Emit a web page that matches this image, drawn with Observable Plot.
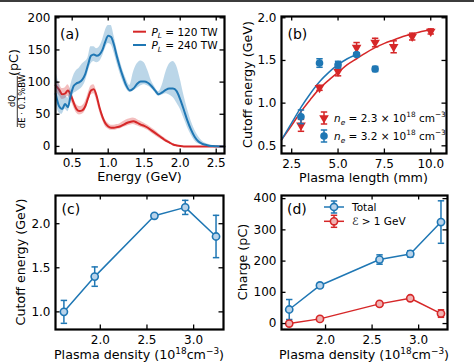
<!DOCTYPE html>
<html><head><meta charset="utf-8">
<script src="https://cdn.jsdelivr.net/npm/d3@7"></script>
<script src="https://cdn.jsdelivr.net/npm/@observablehq/plot@0.6"></script>
<style>
html,body{margin:0;padding:0;background:#fff;}
#wrap{position:relative;width:474px;height:364px;overflow:hidden;background:#fff;font-family:"DejaVu Sans";}
#wrap svg{position:absolute;left:0;top:0;overflow:visible;}
#topbar{position:absolute;left:0;top:0;width:474px;height:2px;background:#3c3c3c;z-index:5;}
</style></head><body><div id="wrap"><div id="topbar"></div></div>
<script>
// ---------- Panel (a): spectra ----------
const energyGeV = [0.27,0.32,0.36,0.40,0.44,0.48,0.52,0.56,0.60,0.64,0.68,0.72,0.76,0.80,0.84,0.88,0.92,0.96,1.00,1.04,1.08,1.12,1.16,1.20,1.25,1.30,1.35,1.40,1.45,1.50,1.55,1.60,1.65,1.70,1.75,1.80,1.85,1.90,1.95,2.00,2.05,2.10,2.15,2.20,2.25,2.30,2.35,2.40,2.45,2.50,2.55,2.615];
const q120   = [95,88,81,82,87,80,68,58,55,56, 62,75,87,89,78,60,46,36,31,29, 29,30,31,33,36,38,39,37,34,32, 29,25,21,17,13,9,6,3,1.5,0.5, 0,0,0,0,0,0,0,0,0,0, 0,0];
const q120Lo = [85,79,73,74,78,72,61,52,49,50, 55,68,80,82,71,54,41,31,27,25, 25,26,27,29,31,33,34,32,30,28, 25,21,17,13,10,6.5,4,2,1,0.2, 0,0,0,0,0,0,0,0,0,0, 0,0];
const q120Hi = [105,98,90,91,96,88,75,65,62,63, 69,82,94,96,85,66,51,41,36,33, 33,34,35,38,41,43,44,42,39,36, 33,29,25,20,16,12,8,4.5,2.2,0.9, 0,0,0,0,0,0,0,0,0,0, 0,0];
const q240   = [82,62,58,66,61,80,94,98,100,104, 112,127,141,143,141,143,150,163,172,170, 158,140,124,110,95,87,90,97,101,101, 99,94,87,81,84,88,90,90,86,73, 57,40,26,15,8,4.5,2.5,1.2,0.5,0.2, 0,0];
const q240Lo = [70,52,50,58,54,68,82,85,88,92, 100,115,128,132,130,132,140,152,160,158, 146,130,115,102,90,84,86,90,94,96, 94,90,84,78,80,82,80,76,68,58, 44,30,18,9,4,2,1,0,0,0, 0,0];
const q240Hi = [118,95,78,80,75,95,110,118,122,128, 132,138,155,155,152,155,165,180,188,188, 172,152,135,120,105,95,115,128,133,130, 118,102,92,85,95,115,128,132,125,105, 80,58,40,26,16,9,5,3,1.5,0.7, 0.2,0];
const xTicksA = [0.5,1.0,1.5,2.0,2.5];
const yTicksA = [0,50,100,150,200];

// ---------- Panel (b): cutoff vs plasma length ----------
const length23 = [3,4,5,6,7,8,9,10];
const cut23    = [0.74,1.18,1.37,1.65,1.71,1.66,1.78,1.84];
const err23    = [0.07,0.03,0.05,0.06,0.05,0.07,0.04,0.03];
const length32 = [3,4,5,6,7];
const cut32    = [0.84,1.47,1.45,1.57,1.40];
const err32    = [0.08,0.05,0.04,0.02,0.03];
const fitL23   = [1.95,2.5,3,3.5,4,4.5,5,5.5,6,6.5,7,7.5,8,8.5,9,9.5,10];
const fit23    = [0.57,0.74,0.90,1.04,1.17,1.27,1.36,1.45,1.52,1.59,1.65,1.70,1.74,1.78,1.81,1.84,1.86];
const fitL32   = [1.95,2.5,3,3.5,4,4.5,5,5.5,6];
const fit32    = [0.57,0.77,0.95,1.11,1.25,1.36,1.45,1.52,1.57];
const xTicksB = [2.5,5.0,7.5,10.0];
const yTicksB = [0.5,1.0,1.5,2.0];

// ---------- Panel (c): cutoff vs density ----------
const densC = [1.61,1.94,2.58,2.91,3.24];
const cutC  = [1.00,1.40,2.09,2.185,1.855];
const errC  = [0.13,0.11,0.02,0.08,0.24];
const xTicksC = [2.0,2.5,3.0];
const yTicksC = [1.0,1.5,2.0];

// ---------- Panel (d): charge vs density ----------
const densD = [1.61,1.94,2.58,2.91,3.24];
const chargeTotal = [45,122,205,223,325];
const errTotal    = [32,7,15,10,68];
const chargeHigh  = [0,15,63,81,32];
const errHigh     = [2,6,5,5,12];
const xTicksD = [2.0,2.5,3.0];
const yTicksD = [0,100,200,300,400];

const RED = "#d62728", BLUE = "#1f77b4";
const W = 474, H = 364;
const FA = {L:55, T:16, R:224, B:153};
const FB = {L:281, T:16, R:446, B:153};
const FC = {L:55, T:195, R:223, B:329};
const FD = {L:281, T:195, R:447, B:329};

const wrap = document.getElementById("wrap");
const capSym = {draw(ctx, size){const r = Math.sqrt(size/Math.PI); ctx.moveTo(-r,0); ctx.lineTo(r,0);}};

function margins(f){return {width:W, height:H, marginLeft:f.L, marginTop:f.T, marginRight:W-f.R, marginBottom:H-f.B};}
function axes(f, xt, yt, fmtX, fmtY, padX=6){
  const iw = f.R-f.L, ih = f.B-f.T, len = 4.5, sw = 1.3;
  return [
    Plot.tickX(xt,{x:d=>d, insetTop:ih-len, stroke:"#000", strokeWidth:sw}),
    Plot.tickX(xt,{x:d=>d, insetBottom:ih-len, stroke:"#000", strokeWidth:sw}),
    Plot.tickY(yt,{y:d=>d, insetRight:iw-len, stroke:"#000", strokeWidth:sw}),
    Plot.tickY(yt,{y:d=>d, insetLeft:iw-len, stroke:"#000", strokeWidth:sw}),
    Plot.axisX(xt,{tickSize:0, tickPadding:padX, tickFormat:fmtX, label:null, fontSize:12}),
    Plot.axisY(yt,{tickSize:0, tickPadding:5, tickFormat:fmtY, label:null, fontSize:12}),
    Plot.frame({stroke:"#000", strokeWidth:2.2})
  ];
}
const style = {background:"transparent", fontFamily:"DejaVu Sans", fontSize:"12px", color:"#000"};
const f1 = d3.format(".1f"), f0 = d3.format("d");
function errRows(xs, ys, es){return xs.map((x,i)=>({x, y:ys[i], lo:ys[i]-es[i], hi:ys[i]+es[i]}));}
function errMarks(rows, color){
  return [
    Plot.ruleX(rows,{x:"x", y1:"lo", y2:"hi", stroke:color, strokeWidth:1.5}),
    Plot.dot(rows,{x:"x", y:"lo", symbol:capSym, r:3.2, stroke:color, fill:"none", strokeWidth:1.5}),
    Plot.dot(rows,{x:"x", y:"hi", symbol:capSym, r:3.2, stroke:color, fill:"none", strokeWidth:1.5})
  ];
}

// Panel (a)
const rowsA = energyGeV.map((e,i)=>({e, r:q120[i], rLo:q120Lo[i], rHi:q120Hi[i], b:q240[i], bLo:q240Lo[i], bHi:q240Hi[i]}));
const cv = "monotone-x";
wrap.append(Plot.plot({
  ...margins(FA), style,
  x:{domain:[0.268,2.615]}, y:{domain:[-11,202]},
  marks:[
    Plot.areaY(rowsA,{x:"e", y1:"rLo", y2:"rHi", fill:RED, fillOpacity:0.3, curve:cv}),
    Plot.lineY(rowsA,{x:"e", y:"r", stroke:RED, strokeWidth:2, curve:cv}),
    Plot.areaY(rowsA,{x:"e", y1:"bLo", y2:"bHi", fill:BLUE, fillOpacity:0.3, curve:cv}),
    Plot.lineY(rowsA,{x:"e", y:"b", stroke:BLUE, strokeWidth:2, curve:cv}),
    ...axes(FA, xTicksA, yTicksA, f1, f0, 5)
  ]
}));

// Panel (b)
const fitRows23 = fitL23.map((x,i)=>({x, y:fit23[i]}));
const fitRows32 = fitL32.map((x,i)=>({x, y:fit32[i]}));
const e23 = errRows(length23, cut23, err23), e32 = errRows(length32, cut32, err32);
wrap.append(Plot.plot({
  ...margins(FB), style,
  x:{domain:[1.95,10.85]}, y:{domain:[0.41,2.015]},
  marks:[
    Plot.line(fitRows23,{x:"x", y:"y", stroke:RED, strokeWidth:1.5, curve:cv}),
    Plot.line(fitRows32,{x:"x", y:"y", stroke:BLUE, strokeWidth:1.5, curve:cv}),
    ...errMarks(e23, RED),
    Plot.dot(e23,{x:"x", y:"y", symbol:"triangle2", rotate:180, r:4.6, fill:RED}),
    ...errMarks(e32, BLUE),
    Plot.dot(e32,{x:"x", y:"y", symbol:"circle", r:3.8, fill:BLUE}),
    ...axes(FB, xTicksB, yTicksB, f1, f1)
  ]
}));

// Panel (c)
const eC = errRows(densC, cutC, errC);
wrap.append(Plot.plot({
  ...margins(FC), style,
  x:{domain:[1.52,3.32]}, y:{domain:[0.80,2.32]},
  marks:[
    Plot.line(eC,{x:"x", y:"y", stroke:BLUE, strokeWidth:1.5}),
    ...errMarks(eC, BLUE),
    Plot.dot(eC,{x:"x", y:"y", r:3.6, stroke:BLUE, strokeWidth:1.6, fill:"#b9d3ea"}),
    ...axes(FC, xTicksC, yTicksC, f1, f1)
  ]
}));

// Panel (d)
const eT = errRows(densD, chargeTotal, errTotal), eH = errRows(densD, chargeHigh, errHigh);
wrap.append(Plot.plot({
  ...margins(FD), style,
  x:{domain:[1.527,3.31]}, y:{domain:[-19,410]},
  marks:[
    Plot.line(eT,{x:"x", y:"y", stroke:BLUE, strokeWidth:1.5}),
    ...errMarks(eT, BLUE),
    Plot.dot(eT,{x:"x", y:"y", r:3.6, stroke:BLUE, strokeWidth:1.6, fill:"#b9d3ea"}),
    Plot.line(eH,{x:"x", y:"y", stroke:RED, strokeWidth:1.5}),
    ...errMarks(eH, RED),
    Plot.dot(eH,{x:"x", y:"y", r:3.6, stroke:RED, strokeWidth:1.6, fill:"#f0b3b3"}),
    ...axes(FD, xTicksD, yTicksD, f1, f0)
  ]
}));

// ---------- Text overlay: labels, legends ----------
const ov = d3.select(wrap).append("svg").attr("width",W).attr("height",H)
  .attr("font-family","DejaVu Sans");
function rich(x, y, parts, {size=12.7, anchor="start", rotate=0}={}){
  const t = ov.append("text").attr("x",x).attr("y",y).attr("font-size",size)
    .attr("text-anchor",anchor).attr("fill","#000");
  if (rotate) t.attr("transform",`rotate(${rotate},${x},${y})`);
  let cur = 0;
  for (const p of parts){
    const s = t.append("tspan").text(p.t);
    const shift = p.sup ? -0.42*size : p.sub ? 0.28*size : 0;
    s.attr("dy", shift-cur); cur = shift;
    if (p.sup || p.sub) s.attr("font-size", size*0.7);
    if (p.it) s.attr("font-style","italic");
  }
  return t;
}
// panel letters
rich(60, 38.5, [{t:"(a)"}], {size:14});
rich(287.5, 38.5, [{t:"(b)"}], {size:14});
rich(61.5, 214, [{t:"(c)"}], {size:14});
rich(287, 214, [{t:"(d)"}], {size:14});
// x labels
rich((FA.L+FA.R)/2, 180.5, [{t:"Energy (GeV)"}], {anchor:"middle"});
rich((FB.L+FB.R)/2, 182, [{t:"Plasma length (mm)"}], {anchor:"middle"});
const densLabel = [{t:"Plasma density (10"},{t:"18",sup:true},{t:"cm"},{t:"\u22123",sup:true},{t:")"}];
rich((FC.L+FC.R)/2, 359, densLabel, {anchor:"middle"});
rich((FD.L+FD.R)/2, 359, densLabel, {anchor:"middle"});
// y labels
rich(251.5, 84.5, [{t:"Cutoff energy (GeV)"}], {anchor:"middle", rotate:-90});
rich(25, 262, [{t:"Cutoff energy (GeV)"}], {anchor:"middle", rotate:-90});
rich(246.5, 262, [{t:"Charge (pC)"}], {anchor:"middle", rotate:-90});
// panel (a) y label: fraction + unit
rich(17.6, 62.5, [{t:"(pC)"}], {anchor:"middle", rotate:-90});
rich(15.2, 101, [{t:"dQ"}], {size:8.5, anchor:"middle", rotate:-90});
ov.append("line").attr("x1",17.3).attr("x2",17.3).attr("y1",76).attr("y2",127).attr("stroke","#000").attr("stroke-width",0.8);
rich(24.6, 101, [{t:"dE \u00b7 0.1%BW"}], {size:8.5, anchor:"middle", rotate:-90});

// legend (a)
[[RED, 31.7, "120"],[BLUE, 45, "240"]].forEach(([c,y,v])=>{
  ov.append("line").attr("x1",133).attr("x2",146).attr("y1",y).attr("y2",y).attr("stroke",c).attr("stroke-width",2);
  rich(151.5, y+3.8, [{t:"P",it:true},{t:"L",it:true,sub:true},{t:" = "+v+" TW"}], {size:10.5});
});
// legend helpers
function legErr(x, y, c){
  ov.append("line").attr("x1",x).attr("x2",x).attr("y1",y-6).attr("y2",y+6).attr("stroke",c).attr("stroke-width",1.5);
  [y-6,y+6].forEach(yy=>ov.append("line").attr("x1",x-3.2).attr("x2",x+3.2).attr("y1",yy).attr("y2",yy).attr("stroke",c).attr("stroke-width",1.5));
}
// legend (b)
legErr(324, 118, RED);
ov.append("path").attr("d", d3.symbol(d3.symbolTriangle2, Math.PI*4.6*4.6)()).attr("transform","translate(324,118) rotate(180)").attr("fill",RED);
rich(334, 121.8, [{t:"n",it:true},{t:"e",it:true,sub:true},{t:" = 2.3 \u00d7 10"},{t:"18",sup:true},{t:" cm"},{t:"\u22123",sup:true}], {size:10.5});
legErr(324, 136, BLUE);
ov.append("circle").attr("cx",324).attr("cy",136).attr("r",3.8).attr("fill",BLUE);
rich(334, 139.8, [{t:"n",it:true},{t:"e",it:true,sub:true},{t:" = 3.2 \u00d7 10"},{t:"18",sup:true},{t:" cm"},{t:"\u22123",sup:true}], {size:10.5});
// legend (d)
[[BLUE, 207, [{t:"Total"}], "#b9d3ea"],[RED, 221.3, [{t:"\u2130",it:true},{t:" > 1 GeV"}], "#f0b3b3"]].forEach(([c,y,parts,fl])=>{
  ov.append("line").attr("x1",324).attr("x2",344).attr("y1",y).attr("y2",y).attr("stroke",c).attr("stroke-width",1.5);
  legErr(334, y, c);
  ov.append("circle").attr("cx",334).attr("cy",y).attr("r",3.6).attr("fill",fl).attr("stroke",c).attr("stroke-width",1.6);
  rich(352, y+3.7, parts, {size:10.5});
});
</script></body></html>
